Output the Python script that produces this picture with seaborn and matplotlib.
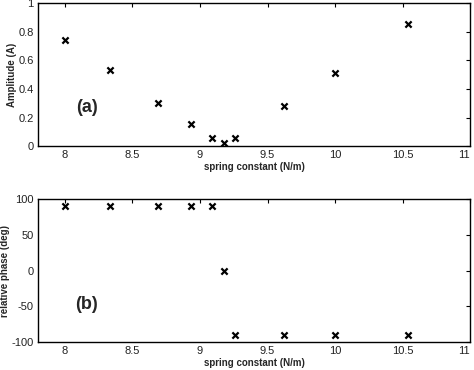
import matplotlib
matplotlib.use("Agg")
import matplotlib.pyplot as plt
import seaborn as sns
import pandas as pd

spring_k = [8.0, 8.33, 8.69, 8.93, 9.09, 9.18, 9.26, 9.62, 10.0, 10.54]
amplitude = [0.74, 0.53, 0.30, 0.155, 0.056, 0.02, 0.06, 0.28, 0.51, 0.85]
phase = [90, 90, 90, 90, 90, 0, -90, -90, -90, -90]
x_ticks = [8, 8.5, 9, 9.5, 10, 10.5, 11]
x_tick_labels = ["8", "8.5", "9", "9.5", "10", "10.5", "11"]
amp_ticks = [0, 0.2, 0.4, 0.6, 0.8, 1]
amp_tick_labels = ["0", "0.2", "0.4", "0.6", "0.8", "1"]
phase_ticks = [-100, -50, 0, 50, 100]
phase_tick_labels = ["-100", "-50", "0", "50", "100"]

df = pd.DataFrame({"k": spring_k, "amp": amplitude, "phase": phase})

sns.set_theme(style="white")
plt.rcParams["font.family"] = ["Liberation Sans", "DejaVu Sans"]

fig = plt.figure(figsize=(4.74, 3.70), dpi=100)
ax1 = fig.add_axes([0.080, 0.605, 0.912, 0.387])
ax2 = fig.add_axes([0.080, 0.0757, 0.912, 0.386])

mk = dict(marker="x", s=20, color="black", linewidth=1.6, legend=False)
sns.scatterplot(data=df, x="k", y="amp", ax=ax1, **mk)
sns.scatterplot(data=df, x="k", y="phase", ax=ax2, **mk)

for ax, yt, ytl, ylab, ylim in [
    (ax1, amp_ticks, amp_tick_labels, "Amplitude (A)", (0, 1)),
    (ax2, phase_ticks, phase_tick_labels, "relative phase (deg)", (-100, 100)),
]:
    ax.set_xlim(7.8, 11)
    ax.set_ylim(*ylim)
    ax.set_xticks(x_ticks)
    ax.set_xticklabels(x_tick_labels)
    ax.set_yticks(yt)
    ax.set_yticklabels(ytl)
    ax.tick_params(direction="in", length=3, width=0.8, top=True, right=True,
                   labelsize=8, pad=3, colors="black")
    for lbl in ax.get_xticklabels() + ax.get_yticklabels():
        lbl.set_color("#222222")
    ax.get_xticklabels()[-1].set_horizontalalignment("right")
    for sp in ax.spines.values():
        sp.set_visible(True)
        sp.set_color("black")
        sp.set_linewidth(1.0)
    ax.set_xlabel("spring constant (N/m)", fontsize=7, fontweight="bold", labelpad=1)
    ax.set_ylabel(ylab, fontsize=7, fontweight="bold", labelpad=1)

ax1.text(8.16, 0.27, "(a)", fontsize=13, fontweight="bold", ha="center", va="center")
ax2.text(8.16, -48, "(b)", fontsize=13, fontweight="bold", ha="center", va="center")

fig.savefig("out.png", dpi=100, facecolor="white")
